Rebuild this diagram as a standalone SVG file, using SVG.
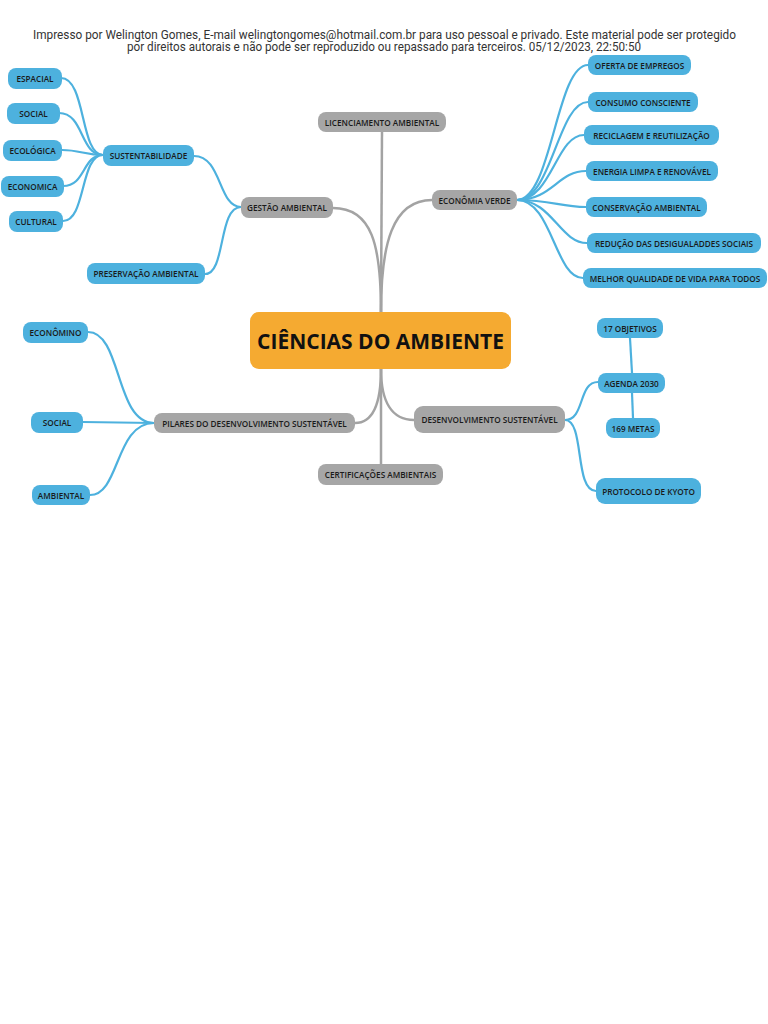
<svg xmlns="http://www.w3.org/2000/svg" width="768" height="1024" viewBox="0 0 768 1024">
<style>
.hdr{font-family:Roboto,"Liberation Sans",sans-serif;font-size:12px;fill:#333;text-anchor:middle}
.b rect{fill:#4DB1DE}
.g rect{fill:#A6A6A6}
.n text{font-family:"Open Sans","Noto Sans","Liberation Sans",sans-serif;font-size:8.2px;font-weight:600;fill:#1a1a1a;text-anchor:middle;dominant-baseline:central}
.c text{font-family:"Open Sans","Noto Sans","Liberation Sans",sans-serif;font-size:21px;font-weight:700;fill:#111;text-anchor:middle;dominant-baseline:central}
.lg{fill:none;stroke:#A3A3A3;stroke-width:2.5}
.lb{fill:none;stroke:#4DB1DE;stroke-width:2.2}
</style>
<rect width="768" height="1024" fill="#fff"/>
<text class="hdr" x="384.5" y="39" textLength="703" lengthAdjust="spacingAndGlyphs">Impresso por Welington Gomes, E-mail welingtongomes@hotmail.com.br para uso pessoal e privado. Este material pode ser protegido</text>
<text class="hdr" x="384" y="51" textLength="514" lengthAdjust="spacingAndGlyphs">por direitos autorais e não pode ser reproduzido ou repassado para terceiros. 05/12/2023, 22:50:50</text>

<g id="connectors">
<path class="lg" d="M381 312 L382 132"/>
<path class="lg" d="M381 312 C381 245 372 208 333 208"/>
<path class="lg" d="M381 312 C381 245 392 200 432 200"/>
<path class="lg" d="M381 369 C381 405 372 423 355 423"/>
<path class="lg" d="M381 369 C381 402 392 420 414 420"/>
<path class="lg" d="M381 369 L381 464"/>
<path class="lb" d="M241 207 C218 207 222 156 194 156"/>
<path class="lb" d="M241 207 C218 207 226 274 205 274"/>
<path class="lb" d="M103 155 C80 155 86 78 61 78"/>
<path class="lb" d="M103 155 C80 155 84 113 59 113"/>
<path class="lb" d="M103 155 C85 155 80 150 62 150"/>
<path class="lb" d="M103 155 C82 155 86 186 63 186"/>
<path class="lb" d="M103 155 C80 155 86 221 63 221"/>
<path class="lb" d="M517 200 C552 200 556 65 588 65"/>
<path class="lb" d="M517 200 C552 200 558 102 588 102"/>
<path class="lb" d="M517 200 C552 200 556 135 584 135"/>
<path class="lb" d="M517 200 C552 200 558 171 586 171"/>
<path class="lb" d="M517 200 C552 200 560 207 586 207"/>
<path class="lb" d="M517 200 C552 200 560 243 587 243"/>
<path class="lb" d="M517 200 C552 200 555 278 583 278"/>
<path class="lb" d="M154 423 C115 423 122 332 88 332"/>
<path class="lb" d="M154 423 L83 422"/>
<path class="lb" d="M154 423 C115 423 120 495 90 495"/>
<path class="lb" d="M565 420 C585 420 578 382 598 382"/>
<path class="lb" d="M565 420 C585 420 574 491 596 491"/>
<path class="lb" d="M630 338 L632 373"/>
<path class="lb" d="M632 393 L633 418"/>
</g>

<g id="central" class="c"><rect x="250" y="312" width="261" height="57" rx="9" fill="#F5AA31"/><text x="380.5" y="341">CIÊNCIAS DO AMBIENTE</text></g>

<g id="licenciamento" class="n g"><rect x="318" y="112" width="128" height="20" rx="8"/><text x="382" y="122">LICENCIAMENTO AMBIENTAL</text></g>
<g id="gestao" class="n g"><rect x="241" y="197" width="92" height="21" rx="8"/><text x="287" y="207.5">GESTÃO AMBIENTAL</text></g>
<g id="economia-verde" class="n g"><rect x="432" y="190" width="85" height="20" rx="8"/><text x="474.5" y="200">ECONÔMIA VERDE</text></g>
<g id="pilares" class="n g"><rect x="154" y="413" width="201" height="20" rx="8"/><text x="254.5" y="423">PILARES DO DESENVOLVIMENTO SUSTENTÁVEL</text></g>
<g id="desenvolvimento" class="n g"><rect x="414" y="406" width="151" height="27" rx="9"/><text x="489.5" y="419.5">DESENVOLVIMENTO SUSTENTÁVEL</text></g>
<g id="certificacoes" class="n g"><rect x="318" y="464" width="125" height="21" rx="8"/><text x="380.5" y="474.5">CERTIFICAÇÕES AMBIENTAIS</text></g>

<g id="espacial" class="n b"><rect x="8" y="68" width="54" height="21" rx="8"/><text x="35" y="78.5">ESPACIAL</text></g>
<g id="social1" class="n b"><rect x="7" y="103" width="53" height="21" rx="8"/><text x="33.5" y="113.5">SOCIAL</text></g>
<g id="ecologica" class="n b"><rect x="3" y="140" width="59" height="21" rx="8"/><text x="32.5" y="150.5">ECOLÓGICA</text></g>
<g id="economica" class="n b"><rect x="1" y="176" width="63" height="21" rx="8"/><text x="32.5" y="186.5">ECONOMICA</text></g>
<g id="cultural" class="n b"><rect x="9" y="211" width="54" height="21" rx="8"/><text x="36" y="221.5">CULTURAL</text></g>
<g id="sustentabilidade" class="n b"><rect x="103" y="145" width="91" height="21" rx="8"/><text x="148.5" y="155.5">SUSTENTABILIDADE</text></g>
<g id="preservacao" class="n b"><rect x="87" y="263" width="118" height="21" rx="8"/><text x="146" y="273.5">PRESERVAÇÃO AMBIENTAL</text></g>

<g id="oferta" class="n b"><rect x="588" y="55" width="103" height="20" rx="8"/><text x="639.5" y="65">OFERTA DE EMPREGOS</text></g>
<g id="consumo" class="n b"><rect x="588" y="92" width="110" height="20" rx="8"/><text x="643" y="102">CONSUMO CONSCIENTE</text></g>
<g id="reciclagem" class="n b"><rect x="584" y="125" width="135" height="20" rx="8"/><text x="651.5" y="135">RECICLAGEM E REUTILIZAÇÃO</text></g>
<g id="energia" class="n b"><rect x="586" y="161" width="132" height="20" rx="8"/><text x="652" y="171">ENERGIA LIMPA E RENOVÁVEL</text></g>
<g id="conservacao" class="n b"><rect x="586" y="197" width="121" height="20" rx="8"/><text x="646.5" y="207">CONSERVAÇÃO AMBIENTAL</text></g>
<g id="reducao" class="n b"><rect x="587" y="233" width="174" height="20" rx="8"/><text x="674" y="243">REDUÇÃO DAS DESIGUALADDES SOCIAIS</text></g>
<g id="melhor" class="n b"><rect x="583" y="268" width="184" height="20" rx="8"/><text x="675" y="278">MELHOR QUALIDADE DE VIDA PARA TODOS</text></g>

<g id="economino" class="n b"><rect x="23" y="322" width="65" height="21" rx="8"/><text x="55.5" y="332.5">ECONÔMINO</text></g>
<g id="social2" class="n b"><rect x="31" y="412" width="52" height="21" rx="8"/><text x="57" y="422.5">SOCIAL</text></g>
<g id="ambiental" class="n b"><rect x="32" y="485" width="58" height="20" rx="8"/><text x="61" y="495">AMBIENTAL</text></g>

<g id="objetivos" class="n b"><rect x="597" y="318" width="66" height="20" rx="8"/><text x="630" y="328">17 OBJETIVOS</text></g>
<g id="agenda" class="n b"><rect x="598" y="373" width="67" height="20" rx="8"/><text x="631.5" y="383">AGENDA 2030</text></g>
<g id="metas" class="n b"><rect x="606" y="418" width="54" height="20" rx="8"/><text x="633" y="428">169 METAS</text></g>
<g id="kyoto" class="n b"><rect x="596" y="478" width="105" height="26" rx="9"/><text x="648.5" y="491">PROTOCOLO DE KYOTO</text></g>
</svg>
